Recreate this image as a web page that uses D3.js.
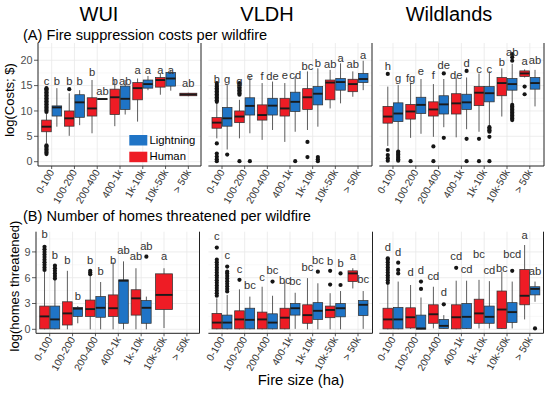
<!DOCTYPE html>
<html><head><meta charset="utf-8">
<script src="https://cdn.jsdelivr.net/npm/d3@7"></script>
<style>body{margin:0;background:#fff;} svg{display:block;font-family:"Liberation Sans",Arial,Helvetica,sans-serif;}</style>
</head><body><script>
// ---------- data ----------
const categories = ["0-100","100-200","200-400","400-1k","1k-10k","10k-50k","> 50k"];
const regions = ["WUI","VLDH","Wildlands"];
const seriesNames = ["Lightning","Human"];
const costTicks = [0,5,10,15,20];
const homeTicks = [0,3,6,9];
const rowTitles = ["(A) Fire suppression costs per wildfire","(B) Number of homes threatened per wildfire"];
const yTitles = ["log(Costs; $)","log(homes threatened)"];
const xTitle = "Fire size (ha)";

// box stats: [lower whisker, Q1, median, Q3, upper whisker]
const costWUIHuman = [[3.6,5.9,6.9,8.2,9.4],[5.1,7.0,8.55,10.0,13.5],[5.6,9.0,10.5,12.6,16.1],[7.0,9.3,12.7,14.3,16.1],[7.9,12.2,14.5,15.6,16.4],[13.2,14.7,16.1,16.6,17.3],[12.9,13.0,13.25,13.5,13.6]];
const costWUILightning = [[6.9,9.0,10.7,11.0,14.5],[7.2,8.75,11.7,13.2,14.1],[12.25,12.28,12.35,12.42,12.45],[9.3,10.3,12.4,14.9,16.1],[14.1,14.5,15.3,16.1,16.9],[14.0,14.9,16.4,17.6,18.1],null];
const costVLDHHuman = [[4.6,6.6,7.7,8.7,11.5],[4.6,7.7,8.9,10.0,12.2],[4.3,8.2,9.2,11.2,15.5],[3.9,9.0,10.5,12.5,15.5],[6.25,10.3,12.7,14.4,17.8],[10.5,12.2,15.6,16.1,18.1],[12.8,13.8,15.3,16.25,17.8]];
const costVLDHLightning = [[2.4,7.0,8.55,10.7,15.1],[5.6,9.2,11.0,12.6,16.8],[6.25,9.2,11.05,12.5,15.8],[5.9,9.9,11.8,13.7,16.9],[6.9,11.2,13.4,14.8,18.4],[11.5,14.1,15.7,16.4,19.4],[14.1,15.6,16.3,17.4,19.9]];
const costWildHuman = [[3.1,7.6,8.9,10.9,14.8],[4.7,8.4,9.9,11.3,15.5],[4.9,9.0,10.3,11.8,15.3],[4.8,9.4,11.5,13.4,16.6],[5.9,11.05,13.6,14.8,17.4],[8.9,13.0,15.5,16.6,18.4],[16.6,16.8,17.4,17.9,18.2]];
const costWildLightning = [[2.3,7.9,9.5,11.6,15.1],[5.5,9.5,11.2,12.7,16.3],[6.8,9.4,11.3,13.0,16.3],[6.4,10.3,11.7,13.3,16.6],[7.0,11.8,13.5,14.8,17.8],[11.5,14.1,15.3,16.4,19.3],[10.9,14.3,15.5,16.6,18.1]];

const homesWUIHuman = [[0,0.05,1.5,2.7,6.7],[0,0.5,1.85,3.2,6.8],[0,1.5,2.35,3.4,6.2],[0,1.5,2.45,4.0,7.8],[0,1.65,3.6,4.6,7.1],[0.15,2.3,4.0,6.45,7.1],null];
const homesWUILightning = [[0,0.05,1.15,2.7,5.7],[0.7,1.5,2.4,2.55,2.7],[0,1.4,2.5,3.8,5.5],[0,0.7,5.65,5.75,7.9],[0,0.7,2.5,3.35,3.8],null,null];
const homesVLDHHuman = [[0,0.05,0.78,1.85,3.6],[0,0.05,1.15,2.15,4.65],[0,0.05,1.15,2.0,4.95],[0,0.05,1.35,2.45,5.55],[0,0.7,1.65,2.85,5.95],[0,1.35,2.25,2.7,4.2],[4.75,5.55,6.5,6.8,7.1]];
const homesVLDHLightning = [[0,0.05,0.78,1.65,4.0],[0,0.05,1.1,2.45,3.8],[0,0.05,0.78,1.8,3.9],[0.05,1.65,2.45,3.0,4.25],[0,1.15,2.15,3.1,5.35],[0,1.45,2.45,3.0,4.45],[0.05,1.6,2.85,3.35,4.45]];
const homesWildHuman = [[0,0.05,1.15,2.45,5.2],[0.05,0.15,1.4,2.5,5.15],[0.1,0.7,1.75,2.85,4.95],[0,0.05,1.4,2.85,5.65],[0.1,0.7,1.85,3.5,5.75],[0.05,0.1,2.3,4.45,6.7],[1.15,2.85,3.9,6.95,9.8]];
const homesWildLightning = [[0,0.05,1.15,2.55,5.55],[0,0.02,0.1,1.65,3.7],[0.1,0.1,0.4,1.15,1.65],[0.05,0.1,1.45,3.0,5.65],[0.1,0.7,1.45,2.7,5.6],[0.1,0.8,2.0,3.1,5.55],[3.2,4.0,4.7,4.95,5.55]];

// outliers per category
const costWUIHumanOut = [[9.8,10.1,10.4,10.7,11.0,11.3,11.6,11.9,12.2,12.5,12.8,13.1,13.4,13.7,14.0,14.3,14.5,1.5,1.8,2.1,2.4,2.7,3.0,3.2],[14.3],[],[],[],[],[]];
const costWUILightningOut = [[],[],[],[],[],[],[]];
const costVLDHHumanOut = [[11.8,12.1,12.4,12.7,13.0,13.3,13.6,13.9,14.2,14.5,14.8,15.1,15.5,3.6,1.6,1.0,0.5,0.1],[13.2,13.5,13.8,14.1,14.4,14.7,15.0,15.3,15.5,0.1],[],[],[3.9,0.9],[],[]];
const costVLDHLightningOut = [[1.4],[0.1],[],[0.1],[0.9,0.5,0.1],[],[]];
const costWildHumanOut = [[17.3,2.3,1.3,0.7,0.2],[0.1],[3.0,0.1],[],[4.5,0.1],[],[14.8,13.3]];
const costWildLightningOut = [[2.0,1.7,1.4,1.1,0.8,0.5,0.2],[],[17.4,4.7],[17.9,4.5,0.1],[6.8,6.5,6.2,5.9,4.9,0.1],[21.2,20.6,19.9,11.2,10.9,10.6,10.3,10.0,9.7,9.4,9.1,8.8,8.5,8.2],[]];
const homesWUIHumanOut = [[6.9,7.2,7.5,7.8,8.1,8.4,8.7,9.0,9.3,9.6],[],[6.4,6.6,6.8],[],[],[],[]];
const homesWUILightningOut = [[5.9,6.2,6.5,6.8,7.1,7.4],[],[],[],[8.45],[],[]];
const homesVLDHHumanOut = [[3.9,4.2,4.5,4.8,5.1,5.4,5.7,6.0,6.3,6.6,6.9,7.2,7.5,7.8,8.1,9.5],[5.75],[],[],[],[5.2,6.8],[]];
const homesVLDHLightningOut = [[4.4,4.7,5.0,5.3,5.6,5.9,6.2,6.5,6.7,7.3],[],[5.55],[],[6.7],[5.15,6.5],[]];
const homesWildHumanOut = [[5.4,5.7,6.0,6.3,6.6,6.9,7.2,7.5,7.8,8.1,8.25],[],[],[7.15],[],[],[]];
const homesWildLightningOut = [[6.5,6.9,7.75],[4.7,5.55],[2.9],[],[],[6.8],[0.1]];

// significance letters [label, y position]
const costWUIHumanLetters = [["c",15.8],["b",15.8],["b",17.6],["b",15.8],["a",18.0],["a",18.0],["ab",15.5]];
const costWUILightningLetters = [["b",15.8],["b",15.8],["ab",13.8],["ab",15.8],["a",18.0],["a",18.0],null];
const costVLDHHumanLetters = [["h",16.25],["g",15.8],["f",16.8],["e",17.1],["bc",18.75],["ab",19.3],["ab",19.3]];
const costVLDHLightningLetters = [["g",16.25],["e",16.9],["de",16.8],["cd",17.1],["b",19.4],["a",20.4],["a",21.05]];
const costWildHumanLetters = [["h",18.9],["fg",16.45],["f",17.1],["de",17.1],["c",18.25],["b",19.7],["a",19.9]];
const costWildLightningLetters = [["g",16.45],["e",17.8],["de",19.1],["d",19.4],["c",18.25],["ab",21.6],["ab",20.1]];
const homesWUIHumanLetters = [["b",11.1],["b",8.05],["b",8.05],["b",8.0],["ab",8.55],["a",8.45],null];
const homesWUILightningLetters = [["b",8.65],["b",3.9],["b",6.8],["ab",9.25],["ab",9.7],null,null];
const homesVLDHHumanLetters = [["c",10.85],["c",6.98],["c",6.05],["bc",5.74],["bc",7.2],["b",7.87],["a",8.45]];
const homesVLDHLightningLetters = [["c",8.64],["bc",5.16],["bc",6.9],["bc",5.54],["bc",7.98],["b",7.67],["bc",5.81]];
const homesWildHumanLetters = [["d",9.53],["d",6.59],["cd",6.2],["cd",8.53],["bc",8.76],["bc",7.09],["a",10.97]];
const homesWildLightningLetters = [["d",8.95],["d",6.82],["d",4.26],["cd",6.98],["cd",6.9],["bcd",8.72],["ab",6.71]];

// ---------- assemble ----------
const panelData = [
 [
  {Human:costWUIHuman, Lightning:costWUILightning, HumanOut:costWUIHumanOut, LightningOut:costWUILightningOut, HumanLet:costWUIHumanLetters, LightningLet:costWUILightningLetters},
  {Human:costVLDHHuman, Lightning:costVLDHLightning, HumanOut:costVLDHHumanOut, LightningOut:costVLDHLightningOut, HumanLet:costVLDHHumanLetters, LightningLet:costVLDHLightningLetters},
  {Human:costWildHuman, Lightning:costWildLightning, HumanOut:costWildHumanOut, LightningOut:costWildLightningOut, HumanLet:costWildHumanLetters, LightningLet:costWildLightningLetters}
 ],
 [
  {Human:homesWUIHuman, Lightning:homesWUILightning, HumanOut:homesWUIHumanOut, LightningOut:homesWUILightningOut, HumanLet:homesWUIHumanLetters, LightningLet:homesWUILightningLetters},
  {Human:homesVLDHHuman, Lightning:homesVLDHLightning, HumanOut:homesVLDHHumanOut, LightningOut:homesVLDHLightningOut, HumanLet:homesVLDHHumanLetters, LightningLet:homesVLDHLightningLetters},
  {Human:homesWildHuman, Lightning:homesWildLightning, HumanOut:homesWildHumanOut, LightningOut:homesWildLightningOut, HumanLet:homesWildHumanLetters, LightningLet:homesWildLightningLetters}
 ]
];

const W=550,H=394;
const colors={Human:"#ee1c25",Lightning:"#1f74c6"};
const svg=d3.select("body").append("svg").attr("width",W).attr("height",H);

const rowsCfg=[
 {yDomain:[-0.85,23.4], yRange:[166,43], ticks:costTicks, axisY:166, top:43,
  xRanges:[[38,202],[208.4,371.6],[379.3,543.5]], left:38, borders:[201,372,544],
  titleY:40, yTitleX:13.5, yTitleY:100},
 {yDomain:[-0.465,11.35], yRange:[333.3,231.7], ticks:homeTicks, axisY:333.3, top:231.7,
  xRanges:[[36,200.6],[208.4,371.6],[379.3,543.5]], left:36, borders:[199.5,372.5,543.5],
  titleY:221, yTitleX:19, yTitleY:286}
];

// region titles
const regionX=[99,267,449];
regions.forEach((r,i)=>{
  svg.append("text").attr("x",regionX[i]).attr("y",20.5).attr("text-anchor","middle")
    .attr("font-size",20).attr("fill","#000").text(r);
});

rowsCfg.forEach((cfg,ri)=>{
  const y=d3.scaleLinear().domain(cfg.yDomain).range(cfg.yRange);
  svg.append("text").attr("x",23).attr("y",cfg.titleY).attr("font-size",14.6).attr("fill","#000").text(rowTitles[ri]);
  svg.append("text").attr("transform",`translate(${cfg.yTitleX},${cfg.yTitleY}) rotate(-90)`)
    .attr("text-anchor","middle").attr("font-size",13).attr("fill","#000").text(yTitles[ri]);

  regions.forEach((reg,pi)=>{
    const x=d3.scalePoint().domain(categories).range(cfg.xRanges[pi]).padding(0.6);
    const x0 = pi===0 ? cfg.left : cfg.xRanges[pi][0];
    const x1 = cfg.borders[pi];
    const g=svg.append("g");
    // grid
    const minor=[];
    for(let k=0;k<cfg.ticks.length;k++){ const step=cfg.ticks[1]-cfg.ticks[0]; minor.push(cfg.ticks[k]+step/2); }
    g.selectAll(".mn").data(minor.filter(v=>y(v)>cfg.top)).enter().append("line")
      .attr("x1",x0).attr("x2",x1).attr("y1",d=>y(d)).attr("y2",d=>y(d)).attr("stroke","#f4f4f4").attr("stroke-width",0.6);
    g.selectAll(".mj").data(cfg.ticks).enter().append("line")
      .attr("x1",x0).attr("x2",x1).attr("y1",d=>y(d)).attr("y2",d=>y(d)).attr("stroke","#e9e9e9").attr("stroke-width",0.8);
    g.selectAll(".vg").data(categories).enter().append("line")
      .attr("x1",d=>x(d)).attr("x2",d=>x(d)).attr("y1",cfg.top).attr("y2",cfg.axisY).attr("stroke","#e9e9e9").attr("stroke-width",0.8);

    const pd=panelData[ri][pi];
    categories.forEach((cat,ci)=>{
      const present=seriesNames.filter(s=>pd[s][ci]);
      const pair=present.length===2;
      ["Human","Lightning"].forEach(s=>{
        const st=pd[s][ci];
        if(!st) return;
        const cx = pair ? x(cat)+(s==="Human"?-5.2:5.2) : x(cat);
        const w = pair ? 9.6 : 17;
        const [lo,q1,med,q3,hi]=st;
        g.append("line").attr("x1",cx).attr("x2",cx).attr("y1",y(hi)).attr("y2",y(lo)).attr("stroke","#333").attr("stroke-width",0.8);
        g.append("rect").attr("x",cx-w/2).attr("y",y(q3)).attr("width",w).attr("height",Math.max(y(q1)-y(q3),0.6))
          .attr("fill",colors[s]).attr("stroke","#333").attr("stroke-width",0.75);
        g.append("line").attr("x1",cx-w/2).attr("x2",cx+w/2).attr("y1",y(med)).attr("y2",y(med)).attr("stroke","#1a1a1a").attr("stroke-width",1.9);
        g.selectAll(null).data(pd[s+"Out"][ci]).enter().append("circle")
          .attr("cx",cx).attr("cy",d=>y(d)).attr("r",2.1).attr("fill","#151515");
        const L=pd[s+"Let"][ci];
        if(L){
          g.append("text").attr("x",cx).attr("y",y(L[1])+3.8).attr("text-anchor","middle")
            .attr("font-size",11.2).attr("fill","#333").text(L[0]);
        }
      });
    });

    // axes
    g.append("line").attr("x1",x0).attr("x2",x1).attr("y1",cfg.axisY).attr("y2",cfg.axisY).attr("stroke","#222").attr("stroke-width",1);
    g.append("line").attr("x1",x1).attr("x2",x1).attr("y1",cfg.top).attr("y2",cfg.axisY).attr("stroke","#222").attr("stroke-width",1);
    g.selectAll(".xt").data(categories).enter().append("line")
      .attr("x1",d=>x(d)).attr("x2",d=>x(d)).attr("y1",cfg.axisY).attr("y2",cfg.axisY+3).attr("stroke","#333").attr("stroke-width",0.8);
    g.selectAll(".xl").data(categories).enter().append("text")
      .attr("transform",d=>`translate(${x(d)+3},${cfg.axisY+6}) rotate(-60)`)
      .attr("text-anchor","end").attr("font-size",10.2).attr("fill","#333").text(d=>d);
    if(pi===0){
      g.append("line").attr("x1",x0).attr("x2",x0).attr("y1",cfg.top).attr("y2",cfg.axisY).attr("stroke","#222").attr("stroke-width",1);
      g.selectAll(".yt").data(cfg.ticks).enter().append("line")
        .attr("x1",x0-4).attr("x2",x0).attr("y1",d=>y(d)).attr("y2",d=>y(d)).attr("stroke","#333").attr("stroke-width",0.8);
      g.selectAll(".yl").data(cfg.ticks).enter().append("text")
        .attr("x",x0-5.5).attr("y",d=>y(d)+3.8).attr("text-anchor","end").attr("font-size",10.8).attr("fill","#4d4d4d").text(d=>d);
    }
  });
});

// legend
const leg=svg.append("g");
seriesNames.forEach((s,i)=>{
  leg.append("rect").attr("x",129.3).attr("y",135+i*16.7).attr("width",18).attr("height",10.5).attr("fill",colors[s]);
  leg.append("text").attr("x",149.5).attr("y",143.8+i*16).attr("font-size",11.3).attr("fill","#000").text(s);
});

// x title
svg.append("text").attr("x",301).attr("y",385).attr("text-anchor","middle").attr("font-size",14.8).attr("fill","#000").text(xTitle);
</script></body></html>
